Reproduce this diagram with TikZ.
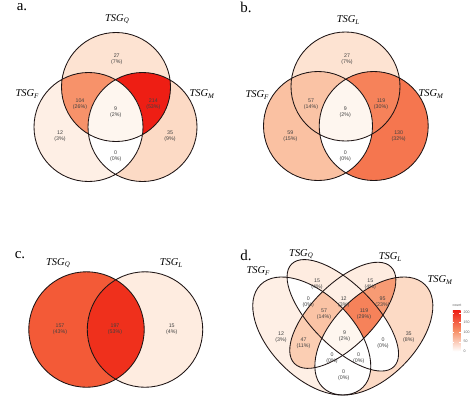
\documentclass[tikz,border=0pt]{standalone}
\usepackage{fontspec}
\setmainfont{Liberation Serif}
\setsansfont{Liberation Sans}
\newcommand{\mkcnt}[2]{\pgfmathsetmacro\cT{#2/214}%
 \pgfmathtruncatemacro\cR{round(255-17*\cT)}%
 \pgfmathtruncatemacro\cG{round(255-225*\cT)}%
 \pgfmathtruncatemacro\cB{round(255-235*(1.6*\cT-0.6*\cT*\cT))}%
 \definecolor{#1}{RGB}{\cR,\cG,\cB}}
\mkcnt{k214}{214}\mkcnt{k197}{197}\mkcnt{k157}{157}\mkcnt{k130}{130}
\mkcnt{k119}{119}\mkcnt{k107}{107}\mkcnt{k104}{104}\mkcnt{k95}{95}\mkcnt{k59}{59}
\mkcnt{k57}{57}\mkcnt{k47}{47}\mkcnt{k35}{35}\mkcnt{k27}{27}
\mkcnt{k15}{18}\mkcnt{k12}{15}\mkcnt{k9}{9}
\definecolor{vline}{RGB}{30,20,20}
\newcommand{\tsg}[1]{\textit{TSG}\raisebox{-0.3ex}{\fontsize{7}{7}\selectfont\textit{#1}}}
\begin{document}
\begin{tikzpicture}[x=1bp,y=1bp,
  cnt/.style={font=\sffamily\fontsize{5.3}{6}\selectfont,align=center,text=black!75,inner sep=0pt},
  setlbl/.style={font=\fontsize{10.5}{12}\selectfont,inner sep=0pt},
  panel/.style={font=\fontsize{15}{16}\selectfont,inner sep=0pt},
  vl/.style={draw=vline,line width=0.85bp},
  lg/.style={font=\sffamily\fontsize{3.6}{4}\selectfont,text=black!60,inner sep=0pt,anchor=west}]
\fill[white] (0,0) rectangle (474,-399);
\useasboundingbox (0,0) rectangle (474,-399);

% ---------------- panel a ----------------
\coordinate (aQ) at (116,-87);
\coordinate (aF) at (88.5,-127);
\coordinate (aM) at (142.5,-127);
\fill[k12] (aF) circle (54.5);
\fill[k27] (aQ) circle (54.5);
\fill[k35] (aM) circle (54.5);
\begin{scope}\clip (aF) circle (54.5); \fill[k104] (aQ) circle (54.5);\end{scope}
\begin{scope}\clip (aQ) circle (54.5); \fill[k214] (aM) circle (54.5);\end{scope}
\begin{scope}\clip (aF) circle (54.5); \fill[white] (aM) circle (54.5);\end{scope}
\begin{scope}\clip (aF) circle (54.5); \clip (aQ) circle (54.5); \fill[k9] (aM) circle (54.5);\end{scope}
\draw[vl] (aF) circle (54.5) (aQ) circle (54.5) (aM) circle (54.5);
\node[panel] (pa) at (22,-7) {a.};
\node[setlbl] (laQ) at (117,-19) {\tsg{Q}};
\node[setlbl] (laF) at (27,-94) {\tsg{F}};
\node[setlbl] (laM) at (202,-94) {\tsg{M}};
\node[cnt] (a1) at (116.7,-59.5) {27\\(7\%)};
\node[cnt] (a2) at (80,-104) {104\\(26\%)};
\node[cnt] (a3) at (115.7,-112.5) {9\\(2\%)};
\node[cnt] (a4) at (153.3,-104) {214\\(53\%)};
\node[cnt] (a5) at (60,-136) {12\\(3\%)};
\node[cnt] (a6) at (170,-136) {35\\(9\%)};
\node[cnt] (a7) at (115.7,-156.3) {0\\(0\%)};

% ---------------- panel b ----------------
\coordinate (bL) at (345.5,-86.5);
\coordinate (bF) at (318,-126);
\coordinate (bM) at (373.7,-126);
\fill[k59] (bF) circle (54.5);
\fill[k27] (bL) circle (54.5);
\fill[k130] (bM) circle (54.5);
\begin{scope}\clip (bF) circle (54.5); \fill[k57] (bL) circle (54.5);\end{scope}
\begin{scope}\clip (bL) circle (54.5); \fill[k119] (bM) circle (54.5);\end{scope}
\begin{scope}\clip (bF) circle (54.5); \fill[white] (bM) circle (54.5);\end{scope}
\begin{scope}\clip (bF) circle (54.5); \clip (bL) circle (54.5); \fill[k9] (bM) circle (54.5);\end{scope}
\draw[vl] (bF) circle (54.5) (bL) circle (54.5) (bM) circle (54.5);
\node[panel] (pb) at (246,-7) {b.};
\node[setlbl] (lbL) at (348,-20) {\tsg{L}};
\node[setlbl] (lbF) at (257,-95) {\tsg{F}};
\node[setlbl] (lbM) at (431,-94) {\tsg{M}};
\node[cnt] (b1) at (347,-59.5) {27\\(7\%)};
\node[cnt] (b2) at (311,-104.5) {57\\(14\%)};
\node[cnt] (b3) at (345.3,-112.5) {9\\(2\%)};
\node[cnt] (b4) at (381,-104.5) {119\\(30\%)};
\node[cnt] (b5) at (290.3,-136) {59\\(15\%)};
\node[cnt] (b6) at (398.7,-136) {130\\(32\%)};
\node[cnt] (b7) at (345.3,-156.3) {0\\(0\%)};

% ---------------- panel c ----------------
\coordinate (cQ) at (86.5,-329.5);
\coordinate (cL) at (145,-329.5);
\fill[k157] (cQ) circle (57.7);
\fill[k15] (cL) circle (57.7);
\begin{scope}\clip (cQ) circle (57.7); \fill[k197] (cL) circle (57.7);\end{scope}
\draw[vl] (cQ) circle (57.7) (cL) circle (57.7);
\node[panel] (pc) at (20,-255) {c.};
\node[setlbl] (lcQ) at (58,-263) {\tsg{Q}};
\node[setlbl] (lcL) at (171,-263) {\tsg{L}};
\node[cnt] (c1) at (60,-329) {157\\(43\%)};
\node[cnt] (c2) at (115,-329) {197\\(53\%)};
\node[cnt] (c3) at (171.7,-329) {15\\(4\%)};

% ---------------- panel d ----------------
% ellipse set (ggVennDiagram 4-set), scale 207 px/unit
\coordinate (dF) at (311.75,-336);
\coordinate (dQ) at (342.8,-315.3);
\coordinate (dL) at (342.8,-315.3);
\coordinate (dM) at (373.85,-336);
\def\aFM{72.45}\def\bFM{41.4}\def\aQ{72.45}\def\aL{68.3}\def\bQL{31.05}
\tikzset{
  eF/.style={rotate around={-45:(dF)}},
  eQ/.style={rotate around={-45:(dQ)}},
  eL/.style={rotate around={45:(dL)}},
  eM/.style={rotate around={45:(dM)}}}
% singles
\fill[k12,eF] (dF) ellipse [x radius=\aFM, y radius=\bFM];
\fill[k35,eM] (dM) ellipse [x radius=\aFM, y radius=\bFM];
\fill[k15,eQ] (dQ) ellipse [x radius=\aQ, y radius=\bQL];
\fill[k15,eL] (dL) ellipse [x radius=\aL, y radius=\bQL];
% pairs
\begin{scope}\clip[eF] (dF) ellipse [x radius=\aFM, y radius=\bFM];
  \fill[white,eQ] (dQ) ellipse [x radius=\aQ, y radius=\bQL];
  \fill[k47,eL] (dL) ellipse [x radius=\aL, y radius=\bQL];
  \fill[white,eM] (dM) ellipse [x radius=\aFM, y radius=\bFM];
\end{scope}
\begin{scope}\clip[eQ] (dQ) ellipse [x radius=\aQ, y radius=\bQL];
  \fill[k12,eL] (dL) ellipse [x radius=\aL, y radius=\bQL];
  \fill[white,eM] (dM) ellipse [x radius=\aFM, y radius=\bFM];
\end{scope}
\begin{scope}\clip[eL] (dL) ellipse [x radius=\aL, y radius=\bQL];
  \fill[k95,eM] (dM) ellipse [x radius=\aFM, y radius=\bFM];
\end{scope}
% triples
\begin{scope}\clip[eF] (dF) ellipse [x radius=\aFM, y radius=\bFM];
  \clip[eQ] (dQ) ellipse [x radius=\aQ, y radius=\bQL];
  \fill[k57,eL] (dL) ellipse [x radius=\aL, y radius=\bQL];
  \fill[white,eM] (dM) ellipse [x radius=\aFM, y radius=\bFM];
\end{scope}
\begin{scope}\clip[eF] (dF) ellipse [x radius=\aFM, y radius=\bFM];
  \clip[eL] (dL) ellipse [x radius=\aL, y radius=\bQL];
  \fill[white,eM] (dM) ellipse [x radius=\aFM, y radius=\bFM];
\end{scope}
\begin{scope}\clip[eQ] (dQ) ellipse [x radius=\aQ, y radius=\bQL];
  \clip[eL] (dL) ellipse [x radius=\aL, y radius=\bQL];
  \fill[k119,eM] (dM) ellipse [x radius=\aFM, y radius=\bFM];
\end{scope}
% quadruple
\begin{scope}\clip[eF] (dF) ellipse [x radius=\aFM, y radius=\bFM];
  \clip[eQ] (dQ) ellipse [x radius=\aQ, y radius=\bQL];
  \clip[eL] (dL) ellipse [x radius=\aL, y radius=\bQL];
  \fill[k9,eM] (dM) ellipse [x radius=\aFM, y radius=\bFM];
\end{scope}
\draw[vl,eF] (dF) ellipse [x radius=\aFM, y radius=\bFM];
\draw[vl,eQ] (dQ) ellipse [x radius=\aQ, y radius=\bQL];
\draw[vl,eL] (dL) ellipse [x radius=\aL, y radius=\bQL];
\draw[vl,eM] (dM) ellipse [x radius=\aFM, y radius=\bFM];
\node[panel] (pd) at (246,-255) {d.};
\node[setlbl] (ldQ) at (301,-254) {\tsg{Q}};
\node[setlbl] (ldL) at (390,-257) {\tsg{L}};
\node[setlbl] (ldF) at (258,-271) {\tsg{F}};
\node[setlbl] (ldM) at (440,-280) {\tsg{M}};
\node[cnt] (d1) at (317,-284) {15\\(4\%)};
\node[cnt] (d2) at (370.3,-284) {15\\(4\%)};
\node[cnt] (d3) at (343.7,-302.5) {12\\(3\%)};
\node[cnt] (d4) at (308.3,-302.5) {0\\(0\%)};
\node[cnt] (d5) at (382.5,-302.5) {95\\(23\%)};
\node[cnt] (d6) at (324,-314) {57\\(14\%)};
\node[cnt] (d7) at (364,-314) {119\\(29\%)};
\node[cnt] (d8) at (281,-337) {12\\(3\%)};
\node[cnt] (d9) at (303.5,-342.8) {47\\(11\%)};
\node[cnt] (d10) at (344.5,-336) {9\\(2\%)};
\node[cnt] (d11) at (408.7,-337) {35\\(8\%)};
\node[cnt] (d12) at (383,-342.8) {0\\(0\%)};
\node[cnt] (d13) at (332,-358) {0\\(0\%)};
\node[cnt] (d14) at (358.7,-358) {0\\(0\%)};
\node[cnt] (d15) at (343.7,-375) {0\\(0\%)};

% legend
\shade[top color=k214, bottom color=white, middle color=k107] (452.8,-310) rectangle (460.5,-351.3);
\foreach \v/\yy in {200/312.7,150/322.3,100/332,50/341.7,0/351.3}{
  \draw[white,line width=0.3bp] (452.8,-\yy) -- (454.3,-\yy) (459,-\yy) -- (460.5,-\yy);
  \node[lg] (lg\v) at (463.5,-\yy) {\v};
}
\node[lg] (lgt) at (452.3,-305) {count};
\end{tikzpicture}
\end{document}
